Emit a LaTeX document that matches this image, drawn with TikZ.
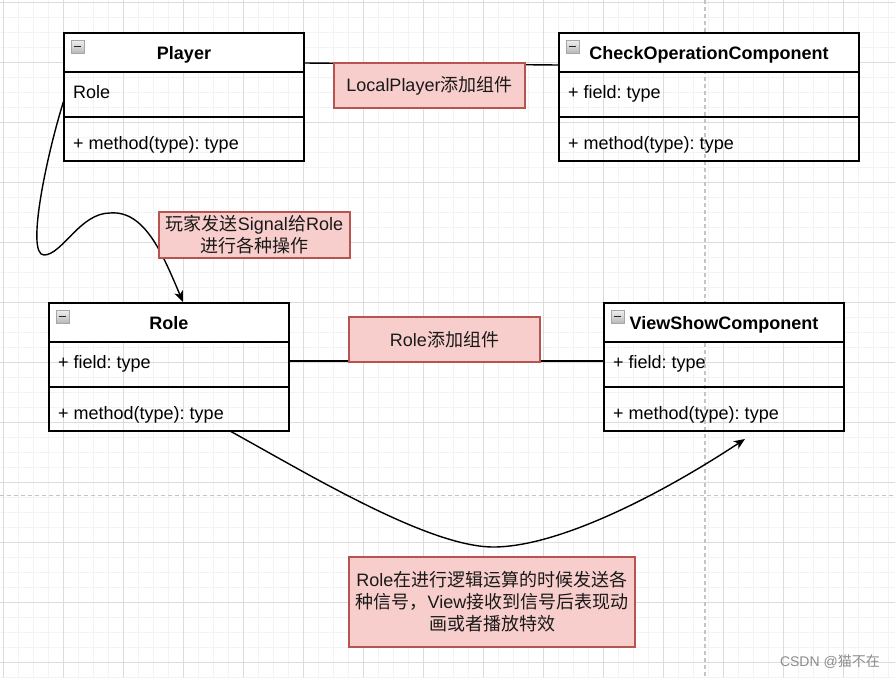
\documentclass[tikz,border=0pt]{standalone}
\usepackage{fontspec}
\setmainfont{Liberation Sans}
\newfontfamily\cjk{Noto Sans CJK SC}
\usetikzlibrary{calc,arrows.meta}
\definecolor{pinkfill}{HTML}{F8CECC}
\definecolor{pinkdraw}{HTML}{B85450}
\definecolor{minorgrid}{HTML}{F3F3F3}
\definecolor{majorgrid}{HTML}{DCDCDC}
\definecolor{pagebreak}{HTML}{C4C4C4}
\definecolor{wmark}{HTML}{8C8C8C}
\frenchspacing
\begin{document}
\begin{tikzpicture}[x=1pt,y=-1pt,
  boxline/.style={draw=black, line width=1.4pt},
  classbox/.style={boxline, anchor=north west, minimum width=#1, minimum height=128pt, inner sep=0pt, outer sep=0pt},
  titletxt/.style={font=\fontsize{18}{21}\selectfont\bfseries, inner sep=0pt, text height=13pt, text depth=0pt},
  membertxt/.style={font=\fontsize{18}{21}\selectfont, anchor=west, inner sep=0pt, text height=13pt, text depth=0pt},
  notebox/.style={draw=pinkdraw, fill=pinkfill, line width=1.4pt, font=\fontsize{18}{22}\selectfont, align=center, inner sep=0pt, outer sep=0pt, text=black!90},
  conn/.style={draw=black, line width=1.4pt},
  tip/.style={-{Stealth[length=11pt,width=9pt,inset=3pt]}},
  minusicon/.style={rectangle, minimum size=13pt, inner sep=0pt, draw=gray!70, line width=0.8pt, top color=gray!12, bottom color=gray!55,
    path picture={\draw[line width=1.6pt, black!85] ($(path picture bounding box.west)+(3,0)$) -- ($(path picture bounding box.east)+(-3,0)$);}},
  minorline/.style={draw=minorgrid, line width=0.9pt},
  majorline/.style={draw=majorgrid, line width=0.9pt},
  pageline/.style={draw=pagebreak, line width=1.2pt, dash pattern=on 4pt off 3pt}
]
\useasboundingbox (0,0) rectangle (895,678);
\fill[white] (0,0) rectangle (895,678);
% grid
\foreach \i in {0,...,59} { \draw[minorline] ({3.3+15*\i},0) -- ({3.3+15*\i},678); }
\foreach \i in {0,...,45} { \draw[minorline] (0,{2.3+15*\i}) -- (895,{2.3+15*\i}); }
\foreach \i in {0,...,14} { \draw[majorline] ({3.3+60*\i},0) -- ({3.3+60*\i},678); }
\foreach \i in {0,...,11} { \draw[majorline] (0,{2.3+60*\i}) -- (895,{2.3+60*\i}); }
% page breaks
\draw[pageline] (705,0) -- (705,678);
\draw[pageline] (0,495.5) -- (895,495.5);

% class boxes
\node[classbox=240pt] (player) at (64,33) {};
\node[classbox=300pt] (check) at (559,33) {};
\node[classbox=240pt] (role) at (49,303) {};
\node[classbox=240pt] (view) at (604,303) {};

% connectors
\draw[conn] ($(player.north east)+(0,30)$) -- ($(check.north west)+(0,32)$);
\draw[conn] ($(role.north east)+(0,58)$) -- ($(view.north west)+(0,58)$);
\draw[conn, tip] ($(player.north west)+(0,67)$) .. controls (48,150) and (25,255) .. (44,255)
   .. controls (62,255) and (80,213) .. (110,213)
   .. controls (145,210) and (163,255) .. ($(role.north west)+(134,-1)$);
\coordinate (viewtip) at (745,439);
\draw[conn, tip] ($(role.south west)+(181,0)$) .. controls (310,475) and (430,548) .. (495,547)
   .. controls (560,546) and (660,495) .. (viewtip);

% headers and separators
\foreach \c in {player,check,role,view} {
  \draw[boxline, fill=white] (\c.north west) rectangle ($(\c.north east)+(0,39)$);
  \draw[boxline] ($(\c.north west)+(0,84)$) -- ($(\c.north east)+(0,84)$);
  \node[minusicon] at ($(\c.north west)+(13.5,13.5)$) {};
}

% texts
\node[titletxt] (playerT) at ($(player.north)+(0,19.5)$) {Player};
\node[membertxt] (playerF) at ($(player.north west)+(9,58.5)$) {Role};
\node[membertxt] (playerM) at ($(player.north west)+(9,109.5)$) {+ method(type): type};

\node[titletxt] (checkT) at ($(check.north)+(0,19.5)$) {CheckOperationComponent};
\node[membertxt] (checkF) at ($(check.north west)+(9,58.5)$) {+ field: type};
\node[membertxt] (checkM) at ($(check.north west)+(9,109.5)$) {+ method(type): type};

\node[titletxt] (roleT) at ($(role.north)+(0,19.5)$) {Role};
\node[membertxt] (roleF) at ($(role.north west)+(9,58.5)$) {+ field: type};
\node[membertxt] (roleM) at ($(role.north west)+(9,109.5)$) {+ method(type): type};

\node[titletxt] (viewT) at ($(view.north)+(0,19.5)$) {ViewShowComponent};
\node[membertxt] (viewF) at ($(view.north west)+(9,58.5)$) {+ field: type};
\node[membertxt] (viewM) at ($(view.north west)+(9,109.5)$) {+ method(type): type};

% notes
\node[notebox, minimum width=191pt, minimum height=45pt] (note1) at (429.5,85.5) {LocalPlayer{\cjk 添加组件}};
\node[notebox, minimum width=191pt, minimum height=46pt] (note2) at (254.5,235) {{\cjk 玩家发送}Signal{\cjk 给}Role\\{\cjk 进行各种操作}};
\node[notebox, minimum width=191pt, minimum height=45pt] (note3) at (444.5,339.5) {Role{\cjk 添加组件}};
\node[notebox, minimum width=286pt, minimum height=90pt] (note4) at (492,602) {Role{\cjk 在进行逻辑运算的时候发送各}\\{\cjk 种信号，}View{\cjk 接收到信号后表现动}\\{\cjk 画或者播放特效}};

% watermark
\node[font=\fontsize{14}{16}\selectfont, text=wmark, anchor=east, inner sep=0pt] (wm) at (880,662) {CSDN @{\cjk 猫不在}};
\end{tikzpicture}
\end{document}
